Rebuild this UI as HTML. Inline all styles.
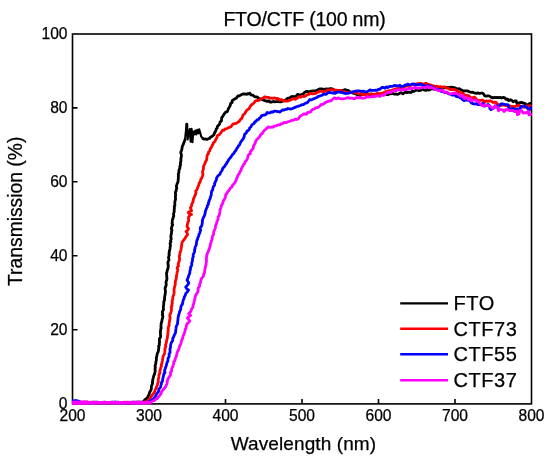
<!DOCTYPE html>
<html><head><meta charset="utf-8"><title>FTO/CTF (100 nm)</title>
<style>html,body{margin:0;padding:0;background:#fff;}body{width:550px;height:457px;overflow:hidden;}svg{display:block;}</style>
</head><body>
<svg width="550" height="457" viewBox="0 0 550 457"><defs><clipPath id="pc"><rect x="72.1" y="30" width="460.4" height="376"/></clipPath></defs><rect width="550" height="457" fill="#fff"/><rect x="72.5" y="34.0" width="459.0" height="369.9" fill="none" stroke="#000" stroke-width="1.6"/><path d="M72.5,329.7h5 M72.5,255.8h5 M72.5,181.8h5 M72.5,107.9h5 M149.0,403.9v-4.8 M225.5,403.9v-4.8 M302.0,403.9v-4.8 M378.5,403.9v-4.8 M455.0,403.9v-4.8" stroke="#000" stroke-width="1.6" fill="none"/><g fill="none" stroke-width="2.8" stroke-linejoin="round" stroke-linecap="round" clip-path="url(#pc)"><polyline stroke="#000" points="72.6,402.6 73.9,402.9 75.2,403.0 76.5,402.8 77.8,402.5 79.1,402.3 80.4,402.5 81.7,402.3 83.0,402.2 84.3,402.4 85.6,402.6 87.0,402.7 88.3,402.4 89.6,402.5 90.9,402.5 92.2,402.2 93.5,402.5 94.8,402.6 96.1,403.0 97.4,402.9 98.7,402.7 100.0,403.0 101.3,402.8 102.7,402.9 104.0,402.7 105.3,402.7 106.7,402.9 108.0,402.9 109.3,402.8 110.7,402.4 112.0,402.6 113.3,402.6 114.7,402.8 116.0,402.7 117.3,402.9 118.7,402.7 120.0,402.7 121.3,402.8 122.7,402.4 124.0,402.4 125.3,402.3 126.7,402.9 128.0,402.7 129.3,402.8 130.7,402.8 132.0,402.6 133.3,402.2 134.7,402.6 136.0,402.4 137.3,402.7 138.7,402.2 140.0,402.3 141.7,402.1 143.4,401.8 144.3,400.4 145.4,399.2 146.6,398.5 147.7,397.2 148.4,395.6 149.2,394.2 149.5,392.5 150.4,391.1 151.2,389.6 151.4,388.0 151.4,386.4 151.9,384.9 152.6,383.6 152.3,382.2 152.7,380.8 152.8,379.4 153.2,378.1 153.5,376.7 153.9,375.3 154.6,374.0 154.8,372.6 155.2,371.3 155.1,369.9 155.1,368.6 155.4,367.3 155.0,365.9 155.5,364.6 155.9,363.3 155.8,362.0 156.3,360.7 156.4,359.4 156.3,358.0 156.7,356.7 156.9,355.4 157.2,354.1 157.6,352.8 158.3,351.6 158.5,350.3 158.6,348.9 158.9,347.6 158.6,346.2 159.4,345.0 159.2,343.7 159.6,342.4 159.4,341.0 159.4,339.7 159.6,338.4 160.5,337.2 160.7,335.9 160.4,334.5 160.5,333.2 160.3,331.9 160.6,330.6 160.7,329.3 161.2,328.0 160.9,326.6 161.1,325.3 161.1,324.0 161.3,322.7 161.8,321.4 162.0,320.1 162.3,318.8 162.7,317.6 162.9,316.3 162.3,314.9 162.7,313.6 162.3,312.2 162.7,311.0 163.5,309.7 163.4,308.4 163.3,307.1 163.5,305.8 163.7,304.5 163.8,303.2 163.7,301.9 164.3,300.6 164.6,299.3 164.5,298.0 164.7,296.7 164.9,295.4 165.2,294.1 165.3,292.8 165.5,291.5 165.3,290.2 165.1,288.9 165.2,287.6 165.8,286.3 166.2,285.0 166.2,283.7 166.0,282.4 166.3,281.1 166.8,279.8 167.0,278.5 166.7,277.2 166.8,275.8 166.5,274.5 166.5,273.2 167.0,271.9 167.2,270.6 167.7,269.3 168.1,268.0 168.2,266.7 168.3,265.4 168.0,264.1 167.8,262.7 168.2,261.4 168.9,260.2 168.9,258.9 168.5,257.5 168.8,256.2 169.3,254.9 168.9,253.6 169.4,252.3 169.3,251.0 169.8,249.7 170.0,248.4 170.1,247.1 170.4,245.9 170.2,244.5 170.1,243.2 170.9,242.0 170.5,240.6 171.2,239.4 171.1,238.0 170.8,236.7 171.0,235.4 171.3,234.1 171.5,232.8 171.5,231.5 172.0,230.2 171.3,228.8 171.6,227.6 171.9,226.3 172.7,225.0 172.0,223.6 172.3,222.4 172.2,221.0 172.4,219.7 173.0,218.5 173.2,217.2 173.8,215.9 173.5,214.5 173.7,213.2 174.1,212.0 174.3,210.7 174.1,209.3 174.5,208.0 174.2,206.7 174.9,205.4 174.8,204.1 174.8,202.8 174.9,201.5 175.3,200.2 175.6,198.9 175.4,197.5 175.4,196.2 175.7,194.9 175.5,193.6 175.4,192.2 176.1,191.0 176.2,189.7 176.8,188.4 176.5,187.1 176.4,185.7 176.9,184.5 177.3,183.2 178.0,182.0 178.1,180.7 178.2,179.3 178.4,178.0 178.3,176.7 178.5,175.4 178.3,174.0 178.9,172.8 178.8,171.5 179.0,170.2 179.6,168.9 180.0,167.6 179.8,166.3 180.6,165.1 180.3,163.7 180.6,162.4 180.9,161.1 180.9,159.8 180.9,158.4 181.3,157.1 181.4,155.8 181.4,154.5 180.8,153.1 180.9,151.8 181.5,150.5 181.9,149.3 182.0,147.9 182.3,146.6 182.8,145.3 183.4,144.1 183.9,142.6 184.5,141.0 185.0,139.5"/><polyline stroke="#000" stroke-width="2.1" points="185.0,139.5 185.9,131.0 186.4,123.8 187.2,124.0 187.6,139.5 188.4,135.0 189.8,129.0 190.6,141.8 191.6,128.8 192.5,142.3 193.2,131.5 194.3,134.5 195.2,130.5 196.2,134.5 197.2,129.8 198.3,133.5 199.2,129.2 200.2,132.5 201.2,136.5 203.0,138.7"/><polyline stroke="#000" points="203.0,138.7 204.2,139.1 205.7,139.0 207.2,139.5 208.4,138.6 209.7,138.3 210.5,137.1 211.9,136.6 212.9,135.6 214.1,134.6 214.4,133.1 215.2,131.9 215.8,130.6 216.2,129.2 217.2,128.0 217.4,126.5 218.3,125.4 219.3,124.4 219.8,123.2 220.1,121.9 221.4,121.0 221.6,119.4 221.6,117.8 222.7,116.5 223.5,115.0 224.5,113.6 225.4,112.3 227.2,111.7 227.9,110.1 228.5,108.5 229.3,107.1 230.2,105.8 230.4,104.5 230.8,103.2 232.2,102.5 232.1,100.8 233.3,99.7 234.8,98.9 236.3,98.3 237.1,97.1 238.0,95.8 239.5,95.8 240.8,94.9 242.3,94.2 243.9,93.8 245.3,94.0 246.8,94.3 248.1,93.6 249.7,93.8 249.9,93.2 250.9,94.8 252.7,95.2 254.0,96.2 255.1,96.8 256.6,96.9 257.8,97.4 258.8,98.5 260.1,98.8 261.4,99.1 263.2,99.9 265.0,100.6 267.3,101.4 268.9,100.8 270.3,102.1 271.8,102.1 273.3,101.4 274.9,101.8 276.4,101.7 278.2,101.6 280.1,101.9 281.7,101.6 283.0,100.9 284.4,100.5 285.8,99.9 286.9,98.7 288.2,98.1 289.7,98.1 290.8,96.9 292.2,96.5 293.8,96.7 295.3,96.4 296.6,95.9 297.6,94.4 299.4,95.2 300.7,94.7 302.1,94.3 303.4,93.8 304.5,92.4 305.8,91.7 307.2,91.3 308.9,92.2 310.1,91.4 311.5,91.1 312.9,90.8 314.3,90.9 315.7,90.7 317.0,90.4 318.2,89.5 319.5,88.9 321.0,89.0 322.4,89.0 323.8,89.3 325.2,89.1 326.6,88.9 327.9,89.3 329.4,88.7 330.8,88.7 332.1,88.8 333.5,89.5 334.7,90.7 336.0,90.7 337.3,90.9 338.7,90.8 340.0,90.8 341.7,90.4 343.3,90.3 345.1,89.7 346.6,90.1 348.1,90.4 349.4,91.5 350.8,92.1 351.9,92.8 353.2,93.3 354.6,93.2 355.7,94.0 356.9,94.5 358.2,94.6 359.5,95.3 361.1,95.0 362.7,94.2 364.2,94.7 365.8,94.6 367.3,95.0 368.6,94.7 370.0,94.9 371.3,94.0 372.8,95.2 374.1,95.2 375.5,94.6 376.8,93.9 378.2,94.0 379.6,94.3 380.9,94.4 382.2,94.4 383.6,93.4 385.0,93.5 386.3,94.6 387.6,94.7 389.0,94.0 390.3,93.8 391.7,93.6 393.1,93.5 394.5,94.2 395.9,93.9 397.3,94.3 398.7,94.0 399.9,93.0 401.3,92.7 402.9,93.8 404.1,92.9 405.4,92.1 406.9,92.7 408.2,92.4 409.6,92.1 411.0,92.5 412.2,91.2 413.6,91.4 415.0,90.7 416.3,90.2 417.6,90.1 419.1,90.7 420.5,90.4 421.7,89.4 423.1,89.3 424.6,90.2 426.0,90.4 427.3,89.4 428.7,90.2 430.0,89.6 431.3,88.8 432.7,88.8 434.1,89.2 435.5,89.6 436.9,89.4 438.2,88.7 439.5,88.2 440.9,87.5 442.2,87.8 443.6,87.6 445.0,87.9 446.6,87.4 448.1,87.4 449.7,87.3 451.4,87.2 453.0,87.5 454.6,87.7 455.1,87.8 456.4,88.7 457.8,89.1 459.2,88.7 460.5,89.5 461.8,90.0 463.0,91.0 464.5,90.8 465.9,90.9 467.3,90.9 468.7,91.4 470.0,92.0 471.3,92.3 472.8,92.2 474.0,92.9 475.4,93.1 476.7,93.4 478.3,92.9 479.6,93.5 481.1,93.2 482.5,93.2 483.7,94.1 484.8,95.9 486.1,96.2 487.6,95.9 489.0,95.8 490.3,96.7 491.6,97.4 492.9,97.8 494.4,97.4 495.8,97.7 497.3,97.5 498.7,97.7 500.3,97.4 501.6,98.0 503.3,97.4 504.8,97.8 505.9,99.4 507.6,99.1 508.7,100.6 510.5,99.7 511.9,100.4 513.1,101.7 514.7,100.9 516.2,101.0 517.2,104.2 518.9,102.9 520.6,102.5 522.0,102.5 523.4,103.1 524.8,103.4 526.2,104.7 527.8,104.9 529.2,103.7 530.6,103.4"/><polyline stroke="#ff0000" points="72.6,402.6 73.9,403.0 75.2,402.6 76.5,402.7 77.8,402.7 79.1,402.8 80.4,402.4 81.7,402.4 83.0,402.3 84.3,402.2 85.6,402.2 86.9,402.2 88.2,402.3 89.5,402.2 90.9,402.5 92.2,402.4 93.5,402.1 94.8,402.7 96.1,402.5 97.4,402.4 98.7,402.5 100.0,402.6 101.3,402.6 102.6,402.4 103.9,402.5 105.2,402.1 106.5,402.7 107.8,402.3 109.1,402.4 110.4,402.5 111.7,402.6 113.0,402.5 114.3,402.6 115.6,402.1 116.9,402.3 118.2,402.3 119.5,402.3 120.8,402.8 122.1,402.4 123.4,402.4 124.7,402.1 126.1,402.3 127.4,402.1 128.7,402.1 130.0,402.9 131.3,402.8 132.6,402.6 133.9,402.6 135.2,402.2 136.5,402.1 137.8,402.4 139.1,402.1 140.4,402.3 141.7,402.1 143.0,402.3 144.4,401.7 146.0,402.0 148.2,400.8 149.2,399.5 150.2,398.3 150.8,397.2 151.6,396.2 152.1,395.0 153.0,394.0 154.1,392.6 154.8,391.0 155.4,389.4 156.2,388.0 156.6,386.5 157.5,385.1 157.6,383.6 158.3,382.3 158.3,380.9 158.2,379.4 158.6,378.1 158.8,376.7 158.9,375.2 159.4,373.9 160.0,372.6 159.8,371.1 160.3,369.8 160.6,368.5 160.9,367.2 161.5,366.0 161.3,364.6 161.9,363.3 162.1,362.0 162.4,360.7 162.6,359.4 162.8,358.1 163.0,356.7 163.5,355.5 164.3,354.3 164.6,353.0 164.8,351.6 165.0,350.3 164.9,348.9 165.3,347.7 165.9,346.4 165.5,345.0 166.0,343.7 166.4,342.4 166.5,341.1 166.8,339.8 167.2,338.5 167.4,337.2 167.6,335.9 167.8,334.6 167.8,333.3 168.1,332.0 168.1,330.6 168.3,329.3 168.2,328.0 168.6,326.7 169.2,325.4 169.1,324.1 169.2,322.8 169.5,321.5 169.6,320.2 170.0,318.9 170.1,317.6 169.8,316.2 169.8,314.8 170.5,313.6 170.9,312.3 171.3,311.1 171.4,309.7 171.5,308.4 171.2,307.0 172.0,305.8 171.8,304.5 172.4,303.2 172.1,301.9 172.3,300.5 172.7,299.3 172.8,298.0 172.9,296.6 173.5,295.4 173.9,294.1 174.1,292.8 174.1,291.5 174.0,290.2 174.2,288.9 174.4,287.6 174.7,286.3 175.2,285.0 175.3,283.6 175.3,282.2 175.4,280.8 176.1,279.4 176.3,278.0 176.4,276.6 176.6,275.2 176.9,273.8 177.1,272.4 177.5,271.1 177.8,269.7 177.1,268.2 177.5,266.9 178.6,265.8 178.2,264.3 178.5,263.0 179.1,261.7 179.2,260.4 179.7,259.1 179.4,257.6 179.3,256.3 179.7,255.0 179.9,253.6 180.0,252.3 180.6,251.1 181.0,249.8 181.2,248.5 181.3,247.2 181.6,245.9 181.8,244.6 181.8,243.3 182.3,242.0 183.3,240.7 184.2,239.4 185.2,238.1 185.8,236.7 186.8,235.6 187.6,234.5 187.0,232.8 186.1,231.5 187.1,230.8 187.9,229.8 188.5,228.5 187.5,227.4 187.0,226.0 187.3,224.7 187.7,223.5 187.9,222.1 188.6,221.0 188.6,219.7 188.5,218.3 188.5,217.1 189.4,216.0 190.3,214.9 191.5,214.5 190.4,214.1 189.2,213.5 188.3,212.5 189.7,211.5 191.6,210.7 190.9,209.1 190.4,208.0 191.0,206.8 191.7,205.5 191.8,203.9 192.8,202.3 193.3,200.4 193.4,199.0 194.1,197.8 194.5,196.5 195.2,195.3 195.6,194.0 195.9,192.6 195.7,191.1 196.7,190.0 197.3,188.8 197.7,187.5 198.2,186.2 198.9,184.9 199.1,183.4 200.0,182.1 200.5,180.8 200.8,179.3 201.7,178.1 202.1,176.8 202.7,175.6 203.0,174.3 202.6,172.8 202.6,171.4 203.0,170.2 203.4,168.9 203.5,167.5 203.6,166.2 204.1,164.9 205.2,162.8 205.6,161.5 206.4,160.3 206.8,158.9 206.9,157.5 207.0,156.0 207.5,154.7 208.5,153.5 208.5,152.0 209.7,151.0 210.0,149.5 210.7,148.2 211.6,147.1 212.0,145.7 212.9,144.5 213.2,143.0 214.3,142.0 215.3,140.9 215.7,139.5 216.5,138.3 217.1,136.9 217.4,135.5 219.2,134.9 220.1,133.7 221.1,132.6 221.9,131.3 222.7,130.1 223.9,130.4 225.0,129.0 226.3,128.9 227.7,128.1 229.1,127.4 230.8,126.9 231.6,125.8 232.4,124.7 233.4,123.9 234.8,123.6 236.2,123.3 237.7,122.3 239.1,121.5 240.1,119.9 241.3,118.9 242.1,117.7 242.6,116.3 243.1,114.9 244.6,113.9 245.4,112.4 246.3,111.1 247.1,109.7 248.9,109.0 249.7,107.5 250.4,106.0 251.6,104.9 252.8,103.8 254.1,102.8 254.9,101.4 256.1,100.7 257.6,100.5 259.1,100.4 260.1,99.2 261.4,98.7 263.1,97.9 264.9,96.8 266.7,97.3 268.4,97.3 270.0,98.2 271.5,98.2 273.0,98.4 274.6,97.9 276.1,98.6 277.7,98.4 279.2,99.2 279.9,100.2 281.4,99.6 282.7,100.3 284.0,101.0 285.5,100.8 286.9,101.1 288.2,100.9 289.6,100.5 290.8,99.8 292.0,99.2 293.4,98.6 295.3,99.3 296.6,98.5 297.8,97.8 299.0,96.7 300.7,97.3 301.8,96.1 303.4,96.5 304.9,96.3 306.1,95.6 307.4,94.7 308.8,94.3 310.0,93.3 311.5,93.5 313.1,93.8 314.4,93.6 315.8,93.3 317.0,92.3 318.3,92.2 319.6,91.4 321.0,91.1 322.4,91.4 323.9,91.8 325.2,91.3 326.6,90.9 327.8,89.8 329.3,90.1 330.7,89.8 332.1,89.6 333.4,89.6 334.8,90.1 336.5,90.1 338.3,90.5 340.0,90.4 341.7,90.7 343.2,91.6 344.9,92.0 346.3,92.3 347.8,92.6 349.3,92.6 350.9,92.2 352.3,92.2 353.7,92.1 355.0,92.8 356.4,93.0 357.7,93.5 359.0,94.1 360.5,93.7 361.8,94.1 363.1,94.7 364.5,94.5 365.9,94.9 367.2,94.6 368.6,94.1 370.0,94.2 371.4,93.8 372.7,94.5 374.0,94.1 375.5,94.7 376.7,93.7 378.1,93.7 379.5,93.7 380.9,93.4 382.3,93.4 383.5,92.7 384.8,92.0 386.1,91.4 387.5,91.2 388.9,90.7 390.3,90.7 391.7,90.3 393.0,89.7 394.4,89.2 395.7,88.7 397.1,88.6 398.6,88.8 399.8,88.0 401.2,87.7 402.8,87.6 404.0,86.8 405.5,86.5 406.8,85.8 408.5,86.3 409.8,85.8 411.1,85.3 412.3,84.5 413.7,84.5 415.0,84.1 416.4,84.0 417.7,83.6 419.1,83.7 420.4,83.3 421.8,83.6 423.1,84.5 424.6,83.7 426.0,83.3 427.3,84.1 428.6,84.8 430.0,84.7 431.3,85.3 432.6,85.6 434.0,86.0 435.3,86.6 436.8,86.2 438.1,86.7 439.5,86.9 440.9,86.7 442.2,87.3 443.7,86.9 445.1,86.9 446.3,88.1 447.8,87.8 449.0,89.0 450.2,89.6 451.8,89.5 453.3,89.5 454.7,89.5 455.2,90.0 456.7,90.4 457.6,92.0 459.4,91.8 460.6,92.8 462.1,92.9 463.4,93.6 464.4,95.0 465.9,95.3 467.4,95.4 468.8,95.9 470.0,96.9 471.2,97.9 472.7,97.9 474.5,97.1 475.6,98.3 476.7,99.6 477.9,100.5 479.4,100.3 480.8,100.4 482.3,100.0 483.6,100.9 484.8,101.9 486.4,100.9 487.7,101.3 489.2,100.8 490.6,101.0 491.9,101.6 493.2,102.5 494.7,102.1 496.0,102.3 497.1,104.2 498.2,104.4 499.6,105.4 501.4,105.3 502.9,104.8 504.3,105.2 505.7,105.6 507.2,105.3 508.5,106.3 510.1,105.9 511.4,106.8 513.0,106.4 514.4,107.0 516.1,106.0 517.5,105.7 519.0,104.9 520.4,106.9 521.9,107.1 523.3,107.0 524.8,107.3 526.2,106.0 527.7,106.2 529.1,105.6 530.6,106.0"/><polyline stroke="#0000ff" points="72.6,402.6 73.9,402.6 75.2,402.9 76.5,402.5 77.8,402.8 79.1,402.6 80.4,402.5 81.7,403.0 83.0,402.8 84.3,402.7 85.7,402.8 87.0,403.0 88.3,402.8 89.6,402.8 90.9,402.5 92.2,402.4 93.5,402.4 94.8,402.1 96.1,402.1 97.4,402.1 98.7,402.3 100.0,402.4 101.3,402.4 102.6,402.5 103.9,402.2 105.2,402.4 106.5,402.5 107.8,402.7 109.1,402.4 110.5,402.4 111.8,402.1 113.1,402.2 114.4,402.1 115.7,402.1 117.0,402.6 118.3,402.1 119.6,402.5 120.9,402.6 122.2,402.5 123.5,402.6 124.8,402.7 126.1,402.9 127.4,402.6 128.7,402.4 130.0,402.3 131.3,402.2 132.6,402.3 133.9,402.2 135.3,402.6 136.6,402.1 137.9,402.1 139.2,402.1 140.5,402.1 141.8,402.8 143.1,402.1 144.4,402.2 145.7,402.2 147.1,402.8 149.4,401.5 150.8,401.0 151.9,399.9 154.0,398.5 154.6,397.3 155.5,396.4 155.9,395.1 156.6,394.0 157.6,392.6 158.8,391.3 158.7,389.3 159.9,388.1 160.7,386.6 161.0,385.0 161.4,383.8 161.5,382.5 162.4,381.4 162.6,380.1 162.8,378.7 163.1,377.5 163.4,376.2 163.7,374.9 163.9,373.6 165.0,372.6 164.6,371.1 164.7,369.8 165.3,368.5 165.7,367.2 166.2,366.0 166.5,364.6 166.8,363.3 167.3,362.0 167.9,360.8 167.9,359.4 168.1,358.1 169.0,356.9 169.2,355.6 169.0,354.2 169.9,353.0 170.1,351.7 170.0,350.3 169.9,348.9 170.5,347.6 170.5,346.2 170.7,344.9 171.0,343.5 171.6,342.2 172.5,341.0 172.8,339.6 172.8,338.1 173.7,336.9 174.1,335.5 174.8,334.2 175.5,332.9 175.6,331.3 175.8,329.8 176.1,328.2 176.2,326.6 176.8,325.4 177.5,324.1 177.6,322.7 177.7,321.4 177.9,320.0 178.0,318.6 178.2,317.3 178.5,315.9 178.8,314.5 179.3,313.2 179.5,311.8 180.2,310.6 180.7,309.2 180.8,307.8 181.0,306.4 181.7,305.1 182.5,303.9 182.7,302.4 183.0,301.0 183.4,299.7 184.1,298.4 184.3,296.9 185.3,295.3 185.7,293.5 186.8,292.5 187.7,291.3 188.5,290.0 187.3,289.3 186.5,288.3 185.7,287.0 187.0,285.7 188.1,284.4 188.8,283.0 187.9,281.5 187.1,280.0 187.7,278.6 188.4,277.0 188.7,275.6 189.4,274.2 189.8,272.9 189.8,271.4 190.3,270.0 190.5,268.6 190.6,267.2 191.4,265.9 191.8,264.6 191.7,263.1 192.1,261.8 192.5,260.4 192.5,259.0 192.8,257.6 193.4,256.3 193.1,254.8 193.7,253.6 194.3,252.4 194.7,251.1 194.5,249.7 195.1,248.4 195.1,247.1 195.8,245.9 196.3,244.6 196.5,243.3 196.6,242.0 196.8,240.6 197.6,239.4 197.7,238.0 198.3,236.8 198.8,235.5 199.0,234.2 199.9,233.0 200.0,231.6 200.7,230.4 200.2,228.8 200.4,227.5 201.4,226.3 201.9,225.1 202.1,223.7 202.4,222.4 202.3,221.0 202.7,219.8 203.0,218.5 203.6,217.2 204.3,216.1 204.7,214.8 205.1,213.5 205.2,212.1 205.5,210.8 206.1,209.6 206.5,208.2 207.3,207.0 207.3,205.6 208.4,204.4 208.3,202.9 209.0,201.7 209.1,200.3 210.0,199.1 210.3,197.7 210.7,196.4 211.2,195.1 211.3,193.7 211.4,192.4 211.7,191.1 212.7,190.0 212.8,188.6 213.1,187.3 213.7,186.1 214.7,185.1 214.5,183.5 215.3,182.2 215.7,180.9 216.5,179.7 216.5,178.1 217.2,176.9 218.2,175.7 219.3,174.9 220.1,173.9 220.5,172.5 221.3,171.5 222.1,170.4 222.5,169.0 223.1,167.8 224.2,166.9 225.0,165.8 225.7,164.6 226.7,163.6 227.1,162.2 228.0,161.1 228.6,159.9 229.4,158.8 230.4,157.7 231.2,156.5 232.0,155.4 232.8,154.2 234.0,153.3 234.5,151.9 235.5,150.9 236.3,149.7 236.9,148.3 237.9,147.3 238.4,145.8 239.6,144.9 240.1,143.4 240.7,142.2 241.5,141.0 242.4,139.9 243.2,138.7 243.9,137.5 244.3,136.1 244.5,134.6 245.6,133.5 246.5,132.5 247.0,131.1 248.4,130.4 249.3,129.3 249.7,127.9 250.9,127.0 251.5,125.4 252.6,124.3 254.1,123.6 254.7,122.0 256.1,121.2 256.9,119.9 258.6,119.5 259.4,118.2 260.7,117.4 261.4,115.9 263.0,115.2 264.7,115.0 266.2,114.3 267.1,112.5 268.8,112.9 270.2,112.8 271.5,112.0 273.0,112.2 274.2,111.2 275.5,111.1 277.0,111.5 278.3,111.7 280.0,112.0 281.4,110.8 282.6,109.9 284.1,110.2 285.3,109.4 286.7,109.3 288.0,108.5 289.7,109.0 291.1,108.9 292.5,108.6 293.8,107.9 295.1,107.4 296.4,106.7 297.8,106.4 299.2,105.9 300.6,105.5 301.9,104.6 303.7,104.5 304.9,103.5 306.5,102.9 307.8,102.2 308.8,100.8 309.8,99.5 311.6,99.9 312.9,99.1 314.2,98.6 315.6,98.0 316.9,97.5 318.1,96.4 319.5,96.1 320.9,95.5 322.3,95.2 323.5,94.0 325.2,94.4 326.6,94.1 327.7,92.8 329.2,92.4 330.6,92.6 332.1,93.0 333.4,92.8 334.9,93.3 336.1,92.9 337.4,92.1 338.7,91.8 340.0,92.3 341.7,92.2 343.3,92.9 345.0,93.5 346.5,93.3 348.0,93.4 349.4,92.8 350.9,92.6 352.2,92.1 353.6,91.7 354.9,91.2 356.3,91.2 357.6,90.9 359.0,90.8 360.4,91.2 361.8,91.5 363.1,91.1 364.6,91.7 366.0,91.8 367.3,91.7 368.6,90.8 369.9,89.9 371.3,90.4 372.7,90.4 374.1,90.4 375.5,90.2 377.0,90.3 378.2,89.5 379.6,89.4 380.8,88.4 382.1,87.5 383.5,87.5 385.0,88.2 386.2,86.9 387.7,87.5 389.0,86.8 390.3,86.4 391.7,86.3 393.1,86.2 394.4,85.4 395.9,85.6 397.3,85.8 398.7,86.0 400.0,85.3 400.8,86.4 402.3,86.4 403.7,86.3 405.0,85.0 406.3,85.1 407.6,84.2 409.1,84.6 410.5,84.9 411.8,84.1 413.2,83.8 414.5,84.4 415.9,85.0 417.3,84.6 418.6,84.7 420.0,84.3 421.4,84.4 422.7,85.0 424.1,85.5 425.3,86.6 426.8,85.9 428.3,85.5 429.6,86.4 430.9,86.5 432.2,87.1 433.5,87.7 434.8,88.4 436.0,89.3 437.3,89.8 439.2,89.2 440.5,89.9 441.4,91.5 443.0,91.5 444.3,92.4 445.8,92.5 447.3,92.5 448.4,93.7 449.7,94.2 451.1,94.3 452.2,95.1 453.9,94.9 455.2,95.3 456.3,96.4 457.7,96.9 459.3,96.8 460.4,97.9 461.7,98.5 462.8,99.9 464.0,100.6 465.7,100.1 467.3,99.9 468.7,100.3 470.1,100.7 471.0,102.6 472.2,103.4 473.6,103.9 475.1,104.0 476.7,103.7 477.9,104.7 479.5,104.3 480.9,104.7 482.6,103.5 483.9,104.1 484.8,106.1 486.5,105.2 488.1,104.5 489.4,105.6 489.9,108.7 491.1,109.6 493.1,108.5 494.5,107.3 495.9,107.2 497.1,105.9 498.4,106.6 499.7,105.7 501.0,103.8 502.6,103.9 504.6,104.3 506.7,104.6 508.3,104.9 508.7,107.8 509.7,110.3 511.5,109.1 513.2,108.4 514.4,109.6 516.0,109.5 517.4,108.9 519.6,110.4 520.1,107.7 521.7,106.2 523.7,106.3 525.2,106.3 526.2,107.2 527.7,108.4 529.6,109.9 530.6,107.5"/><polyline stroke="#ff00ff" points="72.6,402.8 73.9,402.8 75.2,402.9 76.5,402.7 77.8,402.9 79.2,403.1 80.5,403.0 81.8,403.2 83.1,402.8 84.4,402.8 85.7,402.6 87.0,402.5 88.3,402.6 89.7,402.8 91.0,402.9 92.3,403.0 93.6,403.2 94.9,403.2 96.2,402.6 97.5,402.8 98.8,402.6 100.1,402.6 101.5,403.0 102.8,402.9 104.1,402.4 105.4,402.7 106.7,402.7 108.0,402.4 109.3,402.4 110.6,402.4 112.0,402.6 113.3,402.6 114.6,402.7 115.9,403.2 117.2,402.8 118.5,402.6 119.8,402.6 121.1,403.0 122.5,402.7 123.8,403.1 125.1,402.6 126.4,402.5 127.7,402.6 129.0,402.5 130.3,402.5 131.6,402.8 132.9,403.0 134.3,402.9 135.6,402.8 136.9,403.1 138.2,403.1 139.5,402.9 140.8,403.1 142.1,402.7 143.4,402.8 144.8,403.0 146.1,402.9 147.4,402.7 148.7,402.8 150.0,402.7 151.3,402.0 152.5,401.0 154.1,400.6 155.4,399.5 157.0,398.8 157.9,397.6 158.7,396.4 159.7,395.4 160.7,394.2 161.3,393.0 161.6,391.6 162.4,390.6 163.4,389.6 164.3,388.3 165.4,387.0 166.1,385.8 166.5,384.6 167.2,383.3 167.1,381.7 167.6,380.4 167.8,378.9 168.8,377.8 169.4,376.5 170.4,375.4 170.6,373.9 170.5,372.3 171.6,371.2 171.6,369.8 171.8,368.4 172.4,367.2 173.1,366.0 173.3,364.6 173.8,363.3 173.7,361.9 174.9,360.8 175.1,359.4 175.5,358.1 176.1,356.9 176.5,355.5 176.9,354.2 177.0,352.8 177.6,351.5 178.2,350.3 178.9,349.0 179.2,347.7 179.6,346.3 180.1,345.1 180.7,343.8 181.1,342.6 181.4,341.3 181.8,340.0 182.5,338.6 182.9,337.2 183.1,335.8 183.9,334.5 184.3,333.3 184.8,332.0 185.1,330.7 185.1,329.4 186.0,328.3 186.2,326.7 186.5,325.1 187.1,323.7 188.5,322.6 189.8,321.1 188.8,319.9 188.2,318.7 187.4,318.1 188.1,317.1 189.4,316.5 190.6,315.5 189.6,314.4 188.7,313.5 189.5,312.5 190.7,311.6 191.3,309.9 192.0,308.4 193.0,307.0 193.0,305.3 193.7,303.8 193.9,302.2 194.5,300.7 194.5,299.4 195.1,298.2 195.1,296.8 195.6,295.6 196.2,294.4 196.9,293.2 197.8,292.0 198.2,290.7 198.0,289.2 198.3,287.8 199.3,286.7 199.7,285.4 199.7,284.0 200.4,282.9 200.6,281.5 200.9,280.3 201.3,279.0 201.9,277.8 203.2,276.7 203.5,275.4 203.7,274.0 204.5,272.8 204.6,271.4 204.9,270.0 205.0,268.6 205.4,267.3 205.5,265.9 206.1,264.6 206.1,263.2 206.4,261.9 206.5,260.5 206.4,259.1 206.4,257.7 206.8,256.3 206.7,254.9 207.4,253.5 208.0,252.2 208.5,250.8 209.0,249.5 209.5,248.1 209.8,246.7 210.4,245.4 210.3,243.9 211.1,242.6 211.2,241.2 211.9,239.9 212.1,238.5 212.4,237.1 212.7,235.7 213.6,234.5 213.6,233.0 213.7,231.6 214.4,230.3 215.0,229.0 215.4,227.6 215.5,226.2 215.8,224.8 216.6,223.6 216.7,222.1 217.3,220.9 217.9,219.6 218.2,218.2 218.1,216.7 219.2,215.5 219.4,214.1 219.7,212.8 219.9,211.4 220.0,209.9 220.5,208.7 221.0,207.5 221.2,206.1 221.7,204.9 222.5,203.8 222.9,202.5 223.1,201.2 223.9,200.1 224.6,198.9 225.3,197.7 225.5,196.2 225.6,194.8 226.7,193.7 227.3,192.5 228.1,191.3 229.1,190.2 229.9,188.9 230.7,187.7 232.1,186.9 232.4,185.4 233.4,184.4 234.3,183.3 235.1,182.3 235.6,181.0 236.3,179.8 236.6,178.4 237.3,177.3 237.6,175.9 238.3,174.8 239.1,173.7 239.7,172.5 240.2,171.3 241.2,170.3 241.2,168.8 242.0,167.7 242.5,166.5 243.2,165.4 243.8,164.2 244.9,163.2 245.0,161.8 246.1,160.8 246.9,159.7 247.4,158.4 247.8,157.1 248.2,155.7 248.8,154.5 250.3,153.7 250.2,152.1 251.2,151.1 251.8,149.9 252.9,149.0 253.4,147.8 253.4,146.3 253.9,145.1 254.7,144.0 255.3,142.9 255.6,141.6 256.2,140.4 257.1,139.2 258.2,138.2 259.2,137.1 260.2,135.9 260.8,134.5 262.1,133.7 262.9,132.3 263.8,131.0 264.9,130.0 266.0,129.0 267.2,127.9 268.5,126.9 270.2,127.5 271.6,127.2 273.1,127.1 274.2,126.1 275.7,125.9 277.0,125.4 278.4,124.8 280.3,124.6 281.4,123.7 282.8,123.6 284.0,122.3 285.5,122.6 286.9,122.3 288.1,121.6 289.5,121.3 290.8,120.8 292.0,120.3 293.6,120.2 294.7,119.2 296.5,119.5 298.1,119.0 299.1,117.7 300.1,116.2 301.5,115.4 302.8,114.6 304.2,113.8 306.4,114.3 307.3,112.7 308.9,112.3 310.5,111.9 311.5,110.3 312.8,109.4 314.4,109.0 315.5,107.8 317.2,107.6 318.7,107.0 319.9,106.0 321.0,104.7 322.5,104.4 323.9,103.7 325.1,102.6 326.5,102.0 327.9,101.4 329.4,101.0 330.9,100.9 332.1,99.8 333.2,98.6 334.6,97.8 336.2,98.9 337.4,98.3 338.7,97.9 340.0,98.7 341.6,98.8 343.3,98.9 345.0,98.5 346.5,98.0 347.9,97.7 349.4,98.1 350.9,98.2 352.3,98.2 353.7,98.6 355.0,98.6 356.3,97.5 357.7,97.7 359.1,97.9 360.4,97.3 361.8,98.2 363.2,98.2 364.6,98.1 365.9,97.3 367.2,96.6 368.6,97.2 370.0,96.9 371.3,96.6 372.7,96.6 374.1,96.5 375.4,96.3 376.8,95.9 378.2,95.9 379.7,96.3 381.0,96.0 382.3,95.0 383.8,95.4 385.0,94.4 386.1,93.1 387.4,92.6 388.8,92.2 390.5,92.7 391.6,91.7 392.9,91.0 394.3,90.7 395.8,90.7 397.1,90.0 398.5,89.9 399.9,89.9 401.4,90.2 402.7,89.4 404.1,89.7 405.5,89.6 406.9,89.5 408.2,88.9 409.4,88.1 410.9,88.7 412.3,88.7 413.6,87.9 415.0,87.4 416.4,87.8 417.9,88.3 419.2,87.9 420.6,87.9 421.8,87.5 423.2,87.4 424.6,87.4 425.9,87.7 427.3,86.5 428.7,87.1 429.9,88.0 431.4,87.2 432.7,87.9 434.0,88.7 435.2,89.6 436.6,90.0 438.1,90.0 439.3,90.8 440.9,90.3 442.5,90.1 443.5,91.6 444.8,92.2 446.4,91.8 447.6,92.9 449.0,93.5 450.3,93.8 451.8,93.6 453.3,93.1 454.4,93.2 455.0,93.1 456.5,93.8 457.9,94.3 459.3,94.8 460.3,96.3 462.1,95.7 463.6,95.9 464.1,98.6 465.9,98.1 467.5,98.0 468.4,99.7 470.5,98.4 471.1,101.0 473.0,100.1 474.5,100.2 476.0,100.4 477.3,101.0 478.6,101.5 479.5,103.5 480.9,103.8 481.9,105.5 483.2,106.0 485.2,104.8 486.4,105.5 487.9,105.6 489.3,105.8 490.5,106.7 491.7,107.7 493.0,108.4 495.1,105.6 496.2,106.9 497.6,107.2 498.4,110.8 499.9,109.4 501.4,109.6 502.9,110.0 504.2,111.5 505.9,109.4 507.3,109.8 508.8,110.1 510.2,110.6 511.7,110.6 513.4,110.4 514.7,111.7 516.9,110.9 517.4,114.7 519.1,113.7 519.8,110.5 521.8,110.7 523.2,113.1 524.8,112.7 526.3,112.8 528.4,111.2 528.9,114.8 530.6,114.5"/><path d="M72,400.9L75,400.1L77.5,400.4L80,401.3" stroke="#0000ff" stroke-width="2"/><path d="M72.5,402.7H150" stroke="#ff00ff" stroke-width="3.4"/><path d="M72.5,402.6H88" stroke="#ff00ff" stroke-width="4.2" stroke-linecap="butt"/></g><g font-family="'Liberation Sans', Arial, sans-serif" font-size="15.6" fill="#000" stroke="#000" stroke-width="0.25"><text x="67.5" y="408.8" text-anchor="end">0</text><text x="67.5" y="334.9" text-anchor="end">20</text><text x="67.5" y="261.0" text-anchor="end">40</text><text x="67.5" y="187.0" text-anchor="end">60</text><text x="67.5" y="113.1" text-anchor="end">80</text><text x="67.5" y="39.2" text-anchor="end">100</text><text x="72.5" y="420.8" text-anchor="middle">200</text><text x="149.0" y="420.8" text-anchor="middle">300</text><text x="225.5" y="420.8" text-anchor="middle">400</text><text x="302.0" y="420.8" text-anchor="middle">500</text><text x="378.5" y="420.8" text-anchor="middle">600</text><text x="455.0" y="420.8" text-anchor="middle">700</text><text x="531.5" y="420.8" text-anchor="middle">800</text></g><text x="304.5" y="25.5" font-family="'Liberation Sans', Arial, sans-serif" font-size="19.5" letter-spacing="-0.2" stroke="#000" stroke-width="0.25" text-anchor="middle">FTO/CTF (100 nm)</text><text x="303.5" y="449.5" font-family="'Liberation Sans', Arial, sans-serif" font-size="19" letter-spacing="0.1" stroke="#000" stroke-width="0.25" text-anchor="middle">Wavelength (nm)</text><text transform="translate(21.5,211.3) rotate(-90)" font-family="'Liberation Sans', Arial, sans-serif" font-size="19.3" stroke="#000" stroke-width="0.25" text-anchor="middle">Transmission (%)</text><line x1="400.2" y1="303.4" x2="448" y2="303.4" stroke="#000" stroke-width="2.4"/><text x="453.5" y="310.4" font-family="'Liberation Sans', Arial, sans-serif" font-size="20" letter-spacing="0.55" stroke="#000" stroke-width="0.25">FTO</text><line x1="400.2" y1="328.7" x2="448" y2="328.7" stroke="#ff0000" stroke-width="2.4"/><text x="453.5" y="335.7" font-family="'Liberation Sans', Arial, sans-serif" font-size="20" letter-spacing="0.55" stroke="#000" stroke-width="0.25">CTF73</text><line x1="400.2" y1="354.2" x2="448" y2="354.2" stroke="#0000ff" stroke-width="2.4"/><text x="453.5" y="361.2" font-family="'Liberation Sans', Arial, sans-serif" font-size="20" letter-spacing="0.55" stroke="#000" stroke-width="0.25">CTF55</text><line x1="400.2" y1="380.3" x2="448" y2="380.3" stroke="#ff00ff" stroke-width="2.4"/><text x="453.5" y="387.3" font-family="'Liberation Sans', Arial, sans-serif" font-size="20" letter-spacing="0.55" stroke="#000" stroke-width="0.25">CTF37</text></svg>
</body></html>
